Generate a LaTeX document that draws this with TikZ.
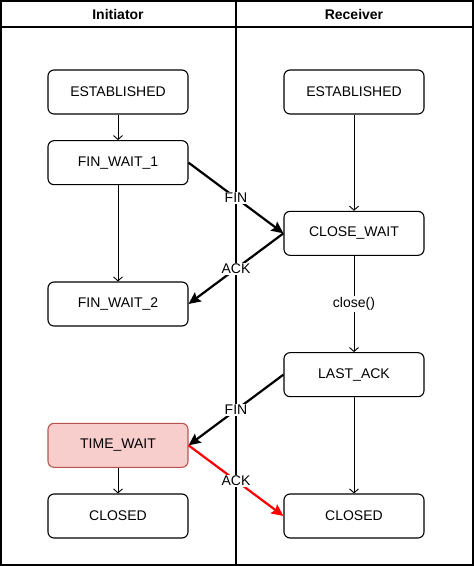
\documentclass[tikz,border=0pt]{standalone}
\usepackage{fontspec}
\setmainfont{Liberation Sans}
\usetikzlibrary{positioning}
\usetikzlibrary{arrows.meta}
\definecolor{twfill}{HTML}{F8CECC}
\definecolor{twdraw}{HTML}{B85450}
\definecolor{ackred}{HTML}{FF0000}

\begin{document}
\begin{tikzpicture}[x=1pt,y=-1pt,node distance=70.67pt and 236pt,on grid,
   font=\fontsize{14}{16}\selectfont,
   stbox/.style={draw,rounded corners=6pt,line width=1.1pt,minimum width=140pt,minimum height=44pt,inner sep=0pt},
   trans/.style={-{Straight Barb[length=4pt,width=9pt]},line width=0.9pt},
   msg/.style={-{Stealth[length=12pt,width=11pt,inset=2pt]},line width=2.2pt},
   lbl/.style={fill=white,text=black,inner sep=1pt}]
   \useasboundingbox (0,0) rectangle (474,566);
   % swimlanes
   \draw[line width=1.2pt] (1,1) rectangle (473,565);
   \draw[line width=1.2pt] (1,27) -- (473,27);
   \draw[line width=1.2pt] (236,1) -- (236,565);
   \node[font=\fontsize{14}{16}\selectfont\bfseries] (hinit) at (118,14) {Initiator};
   \node[font=\fontsize{14}{16}\selectfont\bfseries] (hrecv) at (354,14) {Receiver};
   % initiator states
   \node[stbox] (iest) at (118,92) {ESTABLISHED};
   \node[stbox] (ifw1) [below=of iest] {FIN\_WAIT\_1};
   \node[stbox] (ifw2) [below=141.33pt of ifw1] {FIN\_WAIT\_2};
   \node[stbox,fill=twfill,draw=twdraw] (itw) [below=141.33pt of ifw2] {TIME\_WAIT};
   \node[stbox] (icl) [below=of itw] {CLOSED};
   % receiver states
   \node[stbox] (rest) [right=of iest] {ESTABLISHED};
   \node[stbox] (rcw) [below=141.33pt of rest] {CLOSE\_WAIT};
   \node[stbox] (rla) [below=141.33pt of rcw] {LAST\_ACK};
   \node[stbox] (rcl) [below=141.33pt of rla] {CLOSED};
   % transitions
   \draw[trans] (iest) -- (ifw1);
   \draw[trans] (ifw1) -- (ifw2);
   \draw[trans] (itw) -- (icl);
   \draw[trans] (rest) -- (rcw);
   \draw[trans] (rcw) -- node[lbl] {close()} (rla);
   \draw[trans] (rla) -- (rcl);
   % messages
   \draw[msg] (ifw1.east) -- node[lbl] {FIN} (rcw.west);
   \draw[msg] (rcw.west) -- node[lbl] {ACK} (ifw2.east);
   \draw[msg] (rla.west) -- node[lbl] {FIN} (itw.east);
   \draw[msg,ackred] (itw.east) -- node[lbl] {ACK} (rcl.west);
\end{tikzpicture}
\end{document}
